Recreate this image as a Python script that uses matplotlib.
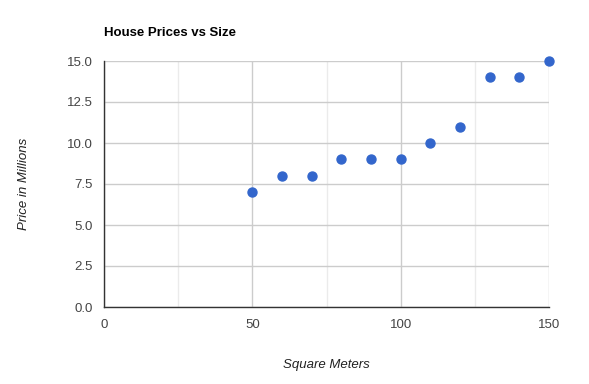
import matplotlib.pyplot as plt
from matplotlib.ticker import MultipleLocator

plt.rcParams['font.family'] = ['Liberation Sans', 'DejaVu Sans']

# data
size_m2 = [50, 60, 70, 80, 90, 100, 110, 120, 130, 140, 150]
price_mill = [7, 8, 8, 9, 9, 9, 10, 11, 14, 14, 15]

fig = plt.figure(figsize=(5.89, 3.84), dpi=100)
ax = fig.add_axes([104/589, 77/384, 445/589, 246/384])

ax.set_xlim(0, 150)
ax.set_ylim(0, 15)
ax.xaxis.set_major_locator(MultipleLocator(50))
ax.xaxis.set_minor_locator(MultipleLocator(25))
ax.yaxis.set_major_locator(MultipleLocator(2.5))
ax.yaxis.set_major_formatter(lambda v, p: f"{v:.1f}")

ax.grid(which='major', color='#cccccc', linewidth=1)
ax.grid(which='minor', axis='x', color='#ebebeb', linewidth=1)
ax.set_axisbelow(True)

ax.scatter(size_m2, price_mill, s=42, color='#3366cc', zorder=3, clip_on=False)

for side in ['top', 'right']:
    ax.spines[side].set_visible(False)
for side in ['left', 'bottom']:
    ax.spines[side].set_color('#333333')
    ax.spines[side].set_linewidth(1)

ax.tick_params(which='both', length=0, labelsize=9.5, labelcolor='#444444')
ax.tick_params(axis='x', pad=9)
ax.tick_params(axis='y', pad=8)

ax.set_xlabel('Square Meters', fontsize=9.5, style='italic', color='#222222', labelpad=20)
ax.set_ylabel('Price in Millions', fontsize=9.5, style='italic', color='#222222', labelpad=27)
fig.text(104/589, 1 - 33/384, 'House Prices vs Size', fontsize=9.5, fontweight='bold',
         va='center', ha='left')

fig.savefig('out.png', dpi=100)
